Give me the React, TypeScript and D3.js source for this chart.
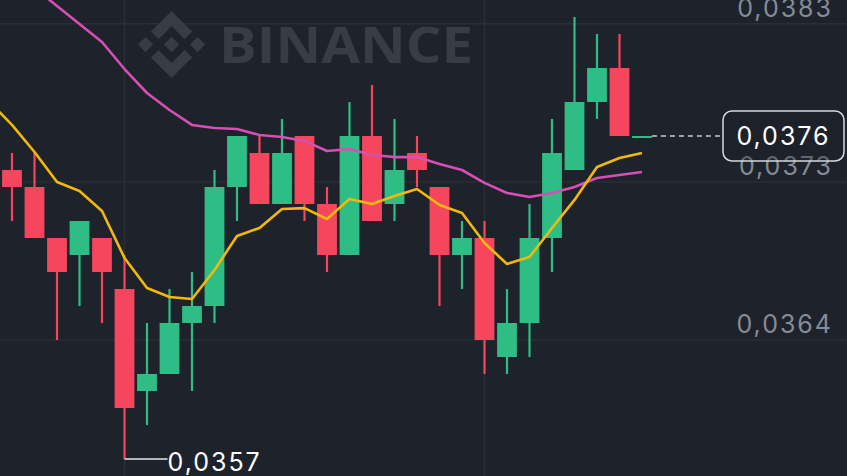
import React from "react";
import * as d3 from "d3";

// OHLC candles (price)
const opens = [0.0374, 0.0373, 0.037, 0.0369, 0.037, 0.0367, 0.0361, 0.0362, 0.0365, 0.0366, 0.0373, 0.0375, 0.0372, 0.0376, 0.0372, 0.0369, 0.0376, 0.0372, 0.0375, 0.0373, 0.0369, 0.037, 0.0363, 0.0365, 0.037, 0.0374, 0.0378, 0.038, 0.0376];
const highs = [0.0375, 0.0375, 0.037, 0.0371, 0.037, 0.0369, 0.0365, 0.0367, 0.0368, 0.0374, 0.0376, 0.0376, 0.0377, 0.0376, 0.0373, 0.0378, 0.0379, 0.0377, 0.0376, 0.0373, 0.0371, 0.0371, 0.0367, 0.0372, 0.0377, 0.0383, 0.0382, 0.0382, 0.0376];
const lows = [0.0371, 0.037, 0.0364, 0.0366, 0.0365, 0.0357, 0.0359, 0.0362, 0.0361, 0.0365, 0.0371, 0.0372, 0.0372, 0.0371, 0.0368, 0.0369, 0.0371, 0.0371, 0.0373, 0.0366, 0.0367, 0.0362, 0.0362, 0.0363, 0.0368, 0.0374, 0.0377, 0.0376, 0.0376];
const closes = [0.0373, 0.037, 0.0368, 0.0371, 0.0368, 0.036, 0.0362, 0.0365, 0.0366, 0.0373, 0.0376, 0.0372, 0.0375, 0.0372, 0.0369, 0.0376, 0.0371, 0.0374, 0.0374, 0.0369, 0.037, 0.0364, 0.0365, 0.037, 0.0375, 0.0378, 0.038, 0.0376, 0.0376];

// Moving averages, first value belongs to the candle before the first visible one
const ma7 = [0.0378, 0.037665, 0.037506, 0.037329, 0.037276, 0.037159, 0.036882, 0.036706, 0.036653, 0.036641, 0.036812, 0.037012, 0.037059, 0.037171, 0.037176, 0.037112, 0.037229, 0.0372, 0.037247, 0.037288, 0.037194, 0.037147, 0.036971, 0.036847, 0.036888, 0.037059, 0.037224, 0.037418, 0.037471, 0.0375];
const ma25 = [0.038682, 0.038576, 0.038471, 0.038365, 0.038259, 0.038153, 0.037994, 0.037853, 0.037753, 0.037665, 0.037647, 0.037641, 0.037606, 0.037594, 0.037571, 0.037512, 0.037524, 0.037488, 0.037476, 0.037476, 0.037435, 0.0374, 0.037324, 0.037265, 0.037241, 0.037265, 0.0373, 0.037353, 0.037371, 0.037388];

const priceTicks = [0.03826, 0.03733, 0.0364];
const gridCandles = [5, 21];
const lastPrice = 0.0376;
const lowIndex = 5;
const lowPrice = 0.0357;

const W = 847;
const H = 476;
const BG = "#1e222a";
const GRID = "#2a2e36";
const UP = "#2ebd85";
const DOWN = "#f6465d";
const MA7C = "#f0b90b";
const MA25C = "#d54fb4";
const LABEL = "#848c97";
const FONT = "Inter, 'Open Sans', sans-serif";

const fmt = (v: number) => d3.format(".4f")(v).replace(".", ",");

export default function App() {
  const x = d3.scaleLinear().domain([0, 28]).range([12, 642]);
  const y = d3.scaleLinear().domain([0.0357, 0.0376]).range([459, 136]);
  const step = x(1) - x(0);
  const bodyW = step * 0.88;

  const maLine = d3
    .line<number>()
    .x((_, i) => x(i - 1))
    .y((d) => y(d));

  const logoPath1 =
    "M38.73 53.2l24.59-24.58 24.6 24.6 14.3-14.31L63.32 0 24.42 38.9l14.31 14.3zM0 63.31l14.3-14.31 14.31 14.31-14.31 14.3zM38.73 73.41l24.59 24.59 24.6-24.6 14.31 14.29-38.9 38.91-38.91-38.88-.02-.02 14.33-14.29zM98 63.31l14.3-14.31 14.31 14.3-14.31 14.32z";
  const logoPath2 =
    "M77.83 63.3L63.32 48.78 52.59 59.51l-1.24 1.23-2.54 2.54-.02.02.02.03 14.51 14.5 14.51-14.52.01-.01-.01-.01z";

  const boxX = 723;
  const boxW = 121;
  const boxH = 50;

  return (
    <div style={{ position: "fixed", left: 0, top: 0, width: W, height: H, overflow: "hidden", background: BG }}>
      <svg width={W} height={H} style={{ display: "block" }}>
        <rect width={W} height={H} fill={BG} />
        {/* grid */}
        {priceTicks.map((t) => (
          <line key={t} x1={0} x2={W} y1={y(t)} y2={y(t)} stroke={GRID} strokeWidth={1.5} />
        ))}
        {gridCandles.map((c) => (
          <line key={c} x1={x(c)} x2={x(c)} y1={0} y2={H} stroke={GRID} strokeWidth={1.5} />
        ))}
        {/* watermark */}
        <g fill="#373c45">
          <g transform="translate(138,11) scale(0.53)">
            <path d={logoPath1} />
            <path d={logoPath2} />
          </g>
          <text
            x={219}
            y={63}
            fontFamily="'Open Sans', sans-serif"
            fontWeight={700}
            fontSize={50}
            textLength={254}
            lengthAdjust="spacingAndGlyphs"
          >
            BINANCE
          </text>
        </g>
        {/* candles */}
        {opens.map((o, i) => {
          const c = closes[i];
          const up = c >= o;
          const col = up ? UP : DOWN;
          const top = y(Math.max(o, c));
          const bot = y(Math.min(o, c));
          return (
            <g key={i}>
              <line x1={x(i)} x2={x(i)} y1={y(highs[i])} y2={y(lows[i])} stroke={col} strokeWidth={2.2} />
              <rect x={x(i) - bodyW / 2} y={top} width={bodyW} height={Math.max(bot - top, 2)} fill={col} />
            </g>
          );
        })}
        {/* MAs */}
        <path d={maLine(ma25) || ""} fill="none" stroke={MA25C} strokeWidth={2.6} strokeLinejoin="round" />
        <path d={maLine(ma7) || ""} fill="none" stroke={MA7C} strokeWidth={2.6} strokeLinejoin="round" />
        {/* axis labels */}
        {priceTicks.map((t) => (
          <text
            key={t}
            x={833}
            y={y(t) - 7}
            textAnchor="end"
            fill={LABEL}
            fontFamily={FONT}
            fontSize={25}
            letterSpacing={2}
          >
            {fmt(t)}
          </text>
        ))}
        {/* last price */}
        <line
          x1={x(28) + bodyW / 2}
          x2={boxX}
          y1={y(lastPrice)}
          y2={y(lastPrice)}
          stroke="#c9cdd3"
          strokeWidth={1.3}
          strokeDasharray="5 4"
        />
        <rect
          x={boxX}
          y={y(lastPrice) - boxH / 2}
          width={boxW}
          height={boxH}
          rx={9}
          fill={BG}
          fillOpacity={0.35}
          stroke="#d5d8dc"
          strokeWidth={1.5}
        />
        <text
          x={boxX + boxW / 2}
          y={y(lastPrice) + 9}
          textAnchor="middle"
          fill="#ffffff"
          fontFamily={FONT}
          fontSize={25}
          letterSpacing={2}
        >
          {fmt(lastPrice)}
        </text>
        {/* low marker */}
        <line x1={x(lowIndex)} x2={x(lowIndex) + 43} y1={y(lowPrice)} y2={y(lowPrice)} stroke="#e6e8ea" strokeWidth={1.3} />
        <text
          x={x(lowIndex) + 43}
          y={y(lowPrice) + 12}
          fill="#ffffff"
          fontFamily={FONT}
          fontSize={25}
          letterSpacing={2}
        >
          {fmt(lowPrice)}
        </text>
      </svg>
    </div>
  );
}
